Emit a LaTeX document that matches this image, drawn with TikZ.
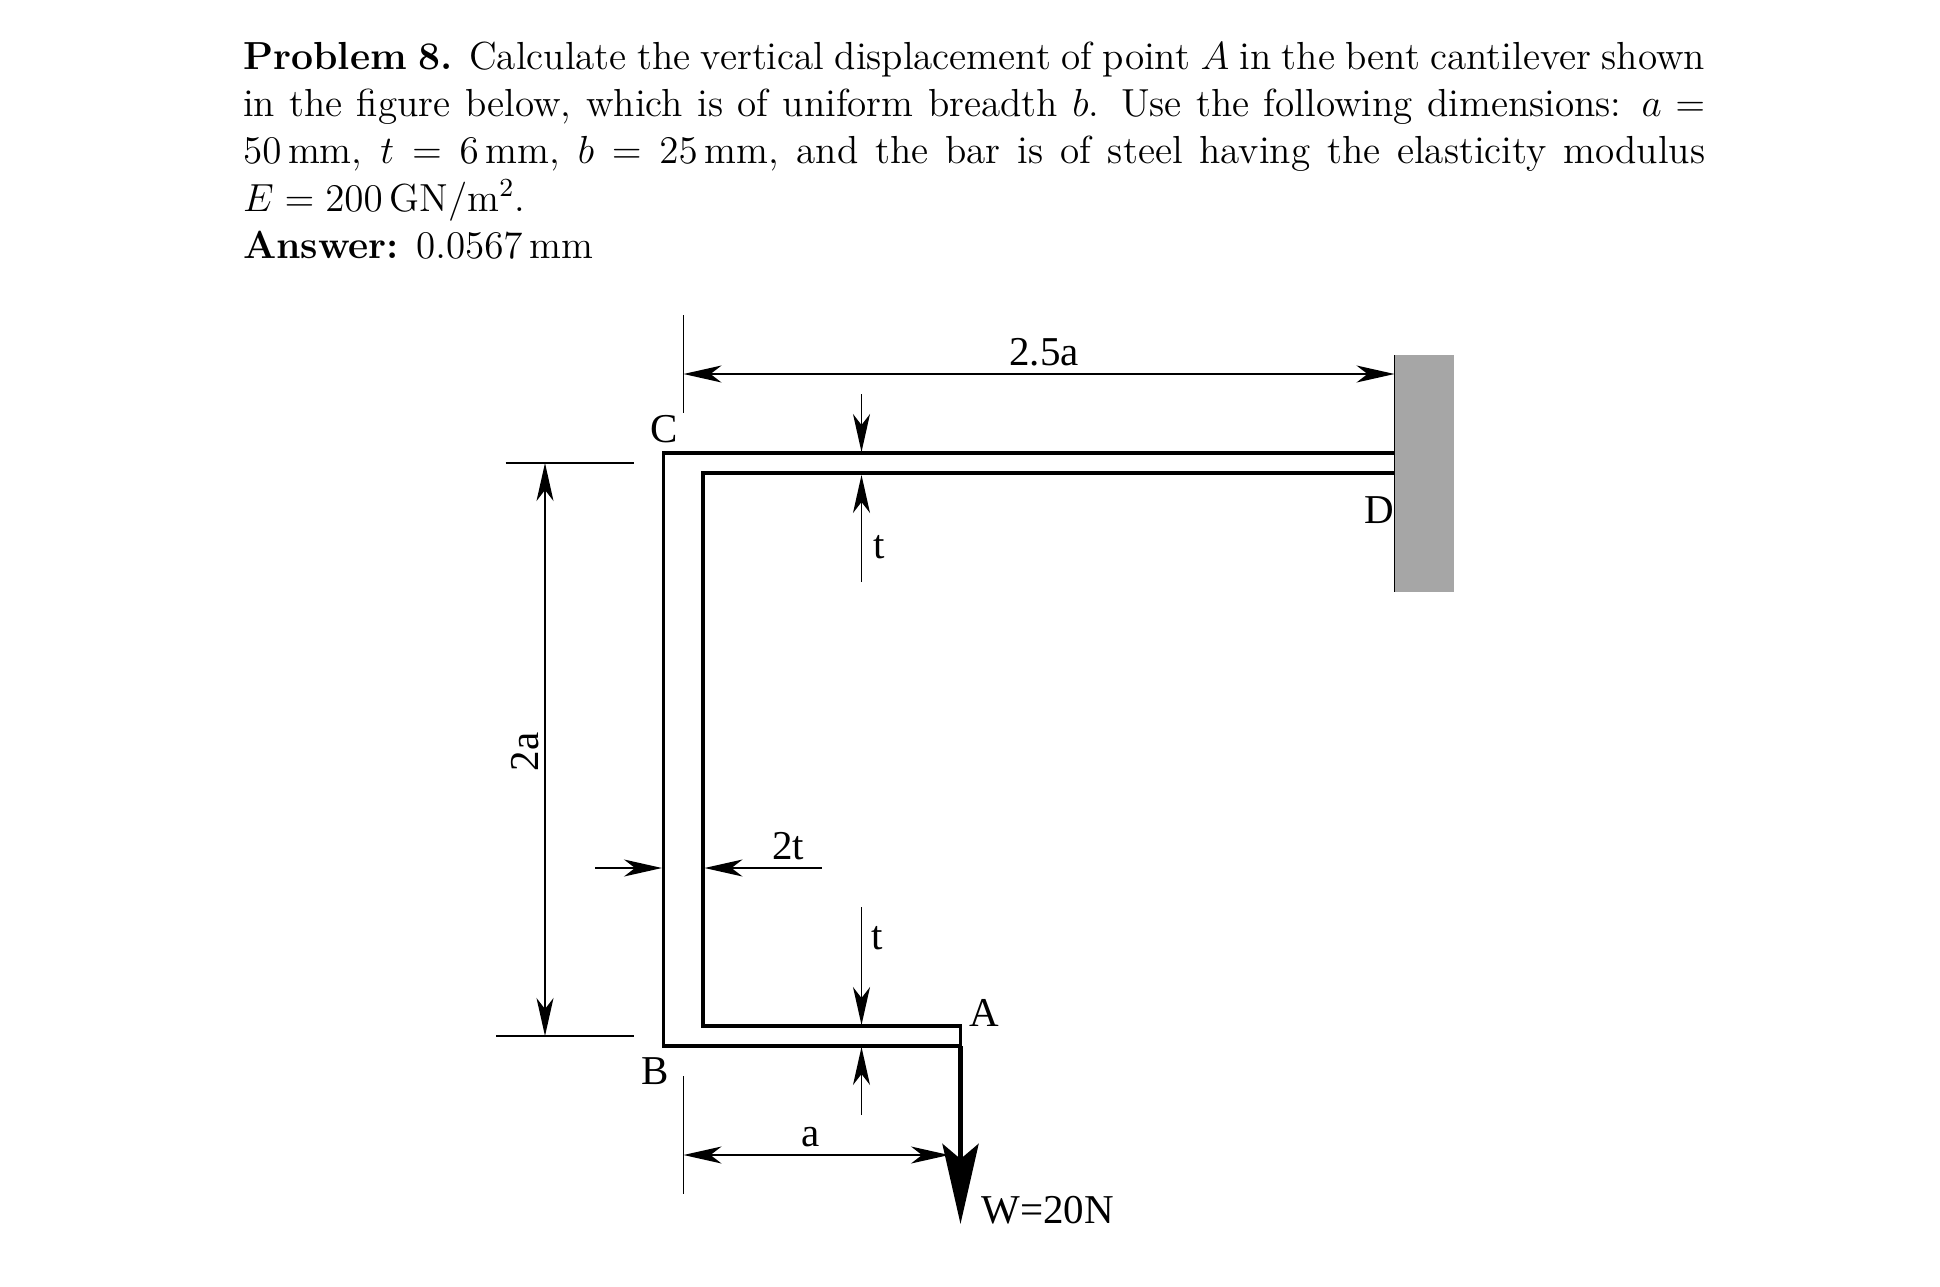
\documentclass[tikz,border=0pt,12pt]{standalone}
\usepackage{fontspec}
\newfontfamily\figfont{Liberation Serif}
\usetikzlibrary{arrows.meta}
\definecolor{wallgray}{HTML}{A6A6A6}
\tikzset{
  x=1pt,y=-1pt,
  thin line/.style={line width=1.5pt,black},
  beam/.style={line width=3.2pt,black,line cap=butt,line join=miter},
  dimtip/.tip={Stealth[length=38pt,width=17pt,inset=11pt]},
  dim both/.style={thin line,{dimtip}-{dimtip}},
  dim end/.style={thin line,-{dimtip}},
  load/.style={line width=5.8pt,black,-{Stealth[length=80pt,width=36pt,inset=15pt]}},
  lab/.style={font=\figfont\fontsize{41}{41}\selectfont,inner sep=0pt,anchor=center},
  para/.style={scale=3.262,inner sep=0pt,anchor=north west,text width=448.2pt,align=justify}
}
\begin{document}
\begin{tikzpicture}
\useasboundingbox (0,0) rectangle (1940,1287);
\node[para] (problem) at (242.5,41) {\fontsize{12}{14.5}\selectfont\setlength{\parindent}{0pt}%
\textbf{Problem 8.} Calculate the vertical displacement of point $A$ in the bent cantilever shown in the figure below, which is of uniform breadth $b$. Use the following dimensions: $a=\linebreak 50\,\mathrm{mm}$, $t=6\,\mathrm{mm}$, $b=25\,\mathrm{mm}$, and the bar is of steel having the elasticity modulus\linebreak $E=200\,\mathrm{GN/m^2}$.\\
\textbf{Answer:} $0.0567\,\mathrm{mm}$};

% key points
\coordinate (oTL) at (663.5,453); \coordinate (oBL) at (663.5,1046); \coordinate (oBR) at (960.5,1046);
\coordinate (iTL) at (703,473); \coordinate (iBL) at (703,1026); \coordinate (iBR) at (960.5,1026);
\coordinate (oTR) at (1394.5,453); \coordinate (iTR) at (1394.5,473);

% wall
\fill[wallgray] (1394.5,355) rectangle (1454,592);
\draw[thin line] (1394.5,355) -- (1394.5,592);

% bar
\draw[beam] (oTR) -- (oTL) -- (oBL) -- (oBR) -- (iBR) -- (iBL) -- (iTL) -- (iTR);

% load
\coordinate (wTip) at (960.5,1224);
\draw[load] (oBR) -- (wTip);

% extension lines
\coordinate (c1) at (683.5,315); \coordinate (c2) at (683.5,413);
\draw[thin line] (c1) -- (c2);
\coordinate (b1) at (683.5,1076); \coordinate (b2) at (683.5,1194);
\draw[thin line] (b1) -- (b2);
\coordinate (t1) at (505.5,463); \coordinate (t2) at (634,463);
\draw[thin line] (t1) -- (t2);
\coordinate (u1) at (496,1036); \coordinate (u2) at (634,1036);
\draw[thin line] (u1) -- (u2);

% dimensions
\coordinate (d25l) at (683.5,374); \coordinate (d25r) at (1394.5,374);
\draw[dim both] (d25l) -- (d25r);
\coordinate (d2at) at (545,463); \coordinate (d2ab) at (545,1036);
\draw[dim both] (d2at) -- (d2ab);
\coordinate (dal) at (683.5,1155); \coordinate (dar) at (949,1155);
\draw[dim both] (dal) -- (dar);
\coordinate (ta1) at (861.5,394); \coordinate (ta2) at (861.5,452);
\draw[dim end] (ta1) -- (ta2);
\coordinate (tb1) at (861.5,582); \coordinate (tb2) at (861.5,475);
\draw[dim end] (tb1) -- (tb2);
\coordinate (tc1) at (861.5,907); \coordinate (tc2) at (861.5,1025);
\draw[dim end] (tc1) -- (tc2);
\coordinate (td1) at (861.5,1115); \coordinate (td2) at (861.5,1047);
\draw[dim end] (td1) -- (td2);
\coordinate (wa1) at (595,868); \coordinate (wa2) at (662,868);
\draw[dim end] (wa1) -- (wa2);
\coordinate (wb1) at (821.5,868); \coordinate (wb2) at (704.5,868);
\draw[dim end] (wb1) -- (wb2);

% labels
\node[lab] (lC) at (664,429) {C};
\node[lab] (lD) at (1379,510) {D};
\node[lab] (lA) at (984.5,1013) {A};
\node[lab] (lB) at (655.5,1071) {B};
\node[lab] (l25) at (1044,352) {2.5a};
\node[lab,rotate=90] (l2a) at (525,752) {2a};
\node[lab] (l2t) at (788,846) {2t};
\node[lab] (lt1) at (879,547) {t};
\node[lab] (lt2) at (877,938) {t};
\node[lab] (la) at (811,1137) {a};
\node[lab] (lW) at (1047.5,1210) {W=20N};
\end{tikzpicture}
\end{document}
